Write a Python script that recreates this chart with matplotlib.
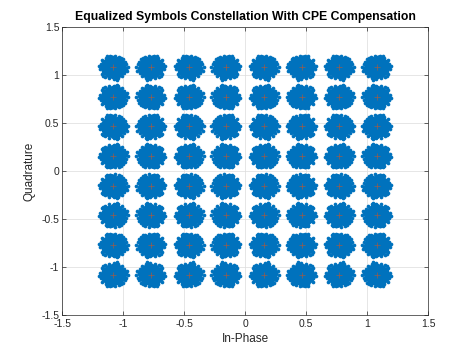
import matplotlib
matplotlib.use("Agg")
import matplotlib.pyplot as plt
import numpy as np

# 64-QAM ideal levels (unit average power)
levels = [-1.080, -0.772, -0.463, -0.154, 0.154, 0.463, 0.772, 1.080]

# hand-read shape of one received cluster, offsets from its ideal point
core_dx = [0.0, 0.05, -0.05, 0.0, 0.0, 0.041, -0.041, 0.041, -0.041, 0.066, -0.066, 0.016, -0.016]
core_dy = [0.0, 0.0, 0.0, 0.052, -0.052, 0.042, 0.042, -0.042, -0.042, 0.010, -0.010, 0.073, -0.073]
mid_dx = [0.074, 0.066, 0.037, 0.0, -0.037, -0.066, -0.074, -0.066, -0.037, 0.0, 0.037, 0.066,
          0.085, -0.080, 0.020, -0.025]
mid_dy = [0.0, 0.040, 0.071, 0.080, 0.071, 0.040, 0.0, -0.040, -0.071, -0.080, -0.071, -0.040,
          0.020, -0.015, 0.090, -0.088]
edge_dx = [0.098, 0.107, 0.090, 0.074, 0.041, 0.008, -0.033, -0.066, -0.090, -0.107, -0.098, -0.090,
           -0.057, -0.025, 0.016, 0.049, 0.082, 0.115, -0.115, 0.033, -0.049, 0.098, -0.082, 0.123, 0.066]
edge_dy = [0.021, -0.031, 0.063, 0.094, 0.115, 0.118, 0.115, 0.100, 0.073, 0.021, -0.031, -0.073,
           -0.100, -0.115, -0.118, -0.108, -0.083, 0.042, -0.010, 0.128, -0.115, -0.060, 0.090, 0.0, -0.100]

ticks = [-1.5, -1, -0.5, 0, 0.5, 1, 1.5]
tick_labels = ["-1.5", "-1", "-0.5", "0", "0.5", "1", "1.5"]

blue = "#0072BD"
orange = "#D95319"
dark = "#262626"

plt.rcParams["font.family"] = ["Liberation Sans", "DejaVu Sans"]

fig = plt.figure(figsize=(4.74, 3.55), dpi=100)
ax = fig.add_axes([0.131, 0.113, 0.772, 0.811])

pts = {"core": ([], []), "mid": ([], []), "edge": ([], [])}
shapes = {"core": (core_dx, core_dy), "mid": (mid_dx, mid_dy), "edge": (edge_dx, edge_dy)}
for i, xi in enumerate(levels):
    for j, yq in enumerate(levels):
        # mirror the cluster shape so neighbours don't look identical
        sx = 1 if i % 2 == 0 else -1
        sy = 1 if j % 2 == 0 else -1
        for key, (dxs, dys) in shapes.items():
            pts[key][0].extend(xi + sx * d for d in dxs)
            pts[key][1].extend(yq + sy * d for d in dys)

ax.scatter(*pts["core"], s=58, color=blue, linewidths=0, zorder=2)
ax.scatter(*pts["mid"], s=30, color=blue, linewidths=0, zorder=2)
ax.scatter(*pts["edge"], s=7, color=blue, linewidths=0, zorder=2)

gx, gy = np.meshgrid(levels, levels)
ax.plot(gx.ravel(), gy.ravel(), "+", color=orange, markersize=4, markeredgewidth=0.5,
        alpha=0.7, linestyle="none", zorder=3)

ax.set_xlim(-1.5, 1.5)
ax.set_ylim(-1.5, 1.5)
ax.set_xticks(ticks)
ax.set_yticks(ticks)
ax.set_xticklabels(tick_labels)
ax.set_yticklabels(tick_labels)
ax.tick_params(direction="in", length=3, width=0.5, colors=dark, labelsize=7.5,
               top=True, right=True)
ax.tick_params(axis="x", pad=3)
ax.tick_params(axis="y", pad=2)
ax.grid(True, color="#dcdcdc", linewidth=0.5)
ax.set_axisbelow(True)
for sp in ax.spines.values():
    sp.set_color(dark)
    sp.set_linewidth(0.5)

ax.set_xlabel("In-Phase", fontsize=8.5, color=dark, labelpad=3)
ax.set_ylabel("Quadrature", fontsize=8.5, color=dark, labelpad=4)
ax.set_title("Equalized Symbols Constellation With CPE Compensation",
             fontsize=8.8, fontweight="bold", color="black", pad=5)

fig.savefig("out.png", dpi=100)
